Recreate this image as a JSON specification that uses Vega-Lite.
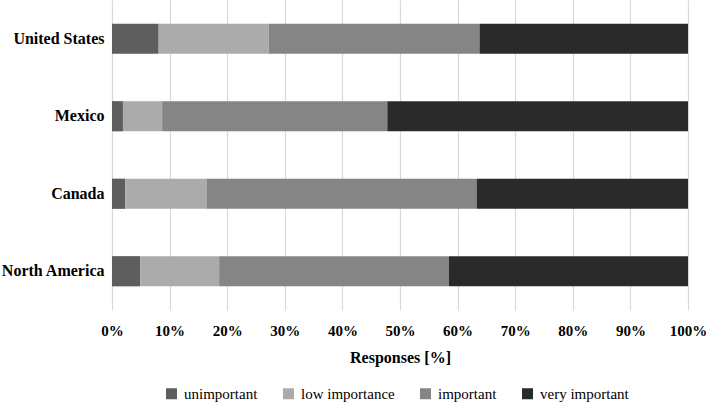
{
  "$schema": "https://vega.github.io/schema/vega-lite/v6.json",
  "width": 576,
  "height": 310,
  "autosize": "none",
  "padding": {"left": 112, "top": 0, "right": 21, "bottom": 93},
  "background": "white",
  "config": {
    "view": {"stroke": null},
    "font": "Liberation Serif",
    "axis": {"labelColor": "#000000", "titleColor": "#000000", "labelFont": "Liberation Serif", "titleFont": "Liberation Serif"},
    "legend": {"labelFont": "Liberation Serif", "labelColor": "#000000"}
  },
  "data": {
    "values": [
      {"region": "United States", "level": 1, "rating": "unimportant", "pct": 8.1},
      {"region": "United States", "level": 2, "rating": "low importance", "pct": 19.1},
      {"region": "United States", "level": 3, "rating": "important", "pct": 36.6},
      {"region": "United States", "level": 4, "rating": "very important", "pct": 36.2},
      {"region": "Mexico", "level": 1, "rating": "unimportant", "pct": 1.9},
      {"region": "Mexico", "level": 2, "rating": "low importance", "pct": 6.8},
      {"region": "Mexico", "level": 3, "rating": "important", "pct": 39.1},
      {"region": "Mexico", "level": 4, "rating": "very important", "pct": 52.2},
      {"region": "Canada", "level": 1, "rating": "unimportant", "pct": 2.3},
      {"region": "Canada", "level": 2, "rating": "low importance", "pct": 14.1},
      {"region": "Canada", "level": 3, "rating": "important", "pct": 46.9},
      {"region": "Canada", "level": 4, "rating": "very important", "pct": 36.7},
      {"region": "North America", "level": 1, "rating": "unimportant", "pct": 4.9},
      {"region": "North America", "level": 2, "rating": "low importance", "pct": 13.7},
      {"region": "North America", "level": 3, "rating": "important", "pct": 39.9},
      {"region": "North America", "level": 4, "rating": "very important", "pct": 41.5}
    ]
  },
  "mark": {"type": "bar"},
  "encoding": {
    "y": {
      "field": "region",
      "type": "nominal",
      "sort": ["United States", "Mexico", "Canada", "North America"],
      "scale": {"paddingInner": 0.61, "paddingOuter": 0.305},
      "axis": {
        "title": null,
        "ticks": false,
        "domain": false,
        "grid": false,
        "labelFontSize": 16,
        "labelFontWeight": "bold",
        "labelPadding": 8
      }
    },
    "x": {
      "field": "pct",
      "type": "quantitative",
      "stack": "zero",
      "scale": {"domain": [0, 100], "nice": false},
      "axis": {
        "title": "Responses [%]",
        "values": [0, 10, 20, 30, 40, 50, 60, 70, 80, 90, 100],
        "labelExpr": "datum.value + '%'",
        "labelFontSize": 15,
        "labelFontWeight": "bold",
        "labelPadding": 13,
        "labelOverlap": false,
        "labelFlush": false,
        "ticks": false,
        "domain": false,
        "grid": true,
        "gridColor": "#d9d9d9",
        "gridWidth": 1.2,
        "titleFontSize": 16,
        "titleFontWeight": "bold",
        "titlePadding": 11
      }
    },
    "color": {
      "field": "rating",
      "type": "nominal",
      "sort": ["unimportant", "low importance", "important", "very important"],
      "scale": {
        "domain": ["unimportant", "low importance", "important", "very important"],
        "range": ["#5e5e5e", "#ababab", "#858585", "#2a2a2a"]
      },
      "legend": {
        "title": null,
        "orient": "none",
        "legendX": 52,
        "legendY": 386,
        "direction": "horizontal",
        "columns": 4,
        "columnPadding": 23,
        "symbolType": "square",
        "symbolSize": 121,
        "symbolStrokeWidth": 0,
        "labelFontSize": 15,
        "labelOffset": 5
      }
    },
    "order": {"field": "level", "type": "quantitative", "sort": "ascending"}
  }
}
